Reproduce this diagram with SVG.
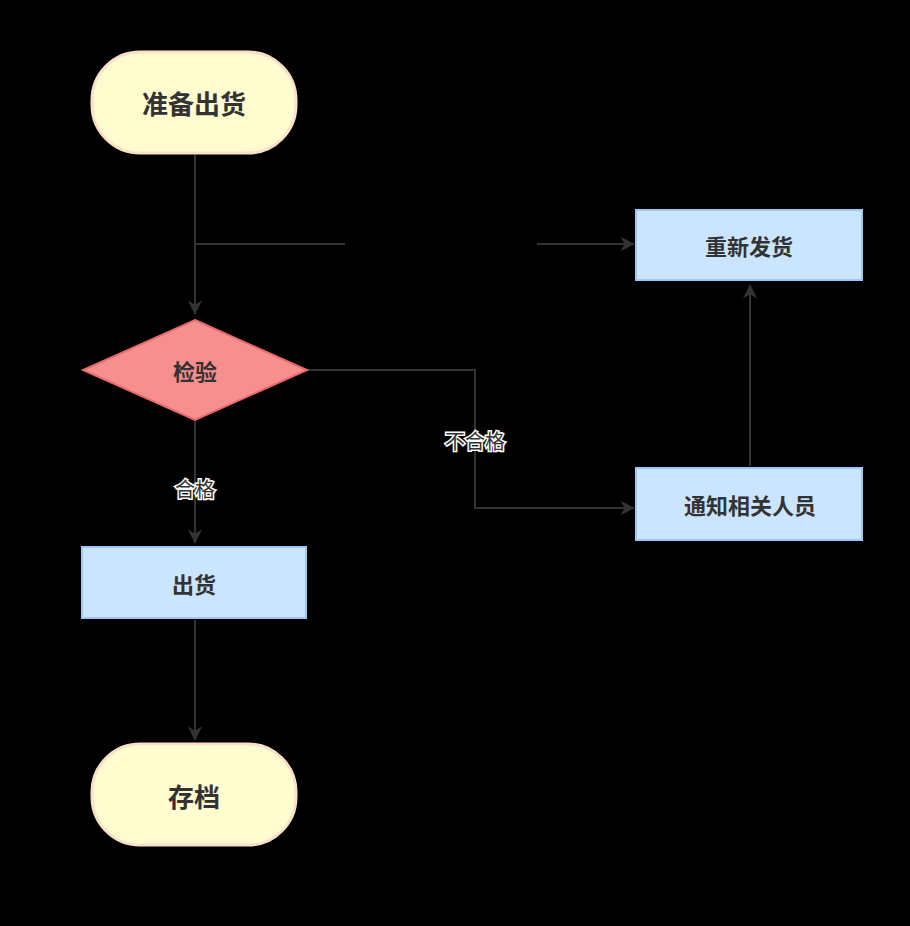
<svg xmlns="http://www.w3.org/2000/svg" width="910" height="926" viewBox="0 0 910 926">
<style>
.term{fill:#fffdd0;stroke:#fbe0c8;stroke-width:3}
.box{fill:#cce5ff;stroke:#9cc8f5;stroke-width:2}
.dia{fill:#f88f8f;stroke:#e86a6a;stroke-width:2}
.t{font-family:"Noto Sans CJK SC",sans-serif;fill:#333;text-anchor:middle;dominant-baseline:central;font-weight:bold}
.c{fill:none;stroke:#333;stroke-width:2}
.lb{font-family:"Noto Sans CJK SC",sans-serif;font-size:20px;fill:#333;text-anchor:middle;dominant-baseline:central;stroke:#fff;stroke-width:3;paint-order:stroke}
</style>
<defs><marker id="a" viewBox="0 0 10 10" refX="9" refY="5" markerWidth="8" markerHeight="8" orient="auto" markerUnits="userSpaceOnUse" style="overflow:visible"><path d="M0,0 L10,5 L0,10 L3,5 Z" fill="#333" transform="scale(1.8) translate(-4.5,-2.2)"/></marker></defs>
<rect width="910" height="926" fill="#000"/>
<g id="connectors">
<path class="c" d="M195,155 V314" marker-end="url(#a)"/>
<path class="c" d="M195,244 H345"/>
<path class="c" d="M537,244 H634" marker-end="url(#a)"/>
<path class="c" d="M195,420 V543" marker-end="url(#a)"/>
<path class="c" d="M307,370 H475 V508 H634" marker-end="url(#a)"/>
<path class="c" d="M750,466 V285" marker-end="url(#a)"/>
<path class="c" d="M195,620 V740" marker-end="url(#a)"/>
<text class="lb" x="195" y="488">合格</text>
<text class="lb" x="475" y="440">不合格</text>
</g>
<g id="n1"><rect class="term" x="92" y="52" width="204" height="101" rx="48"/><text class="t" x="194" y="102" font-size="26">准备出货</text></g>
<g id="n2"><rect class="box" x="636" y="210" width="226" height="70"/><text class="t" x="749" y="245" font-size="22">重新发货</text></g>
<g id="n3"><polygon class="dia" points="195,320 307,370 195,420 83,370"/><text class="t" x="195" y="370" font-size="22">检验</text></g>
<g id="n4"><rect class="box" x="636" y="468" width="226" height="72"/><text class="t" x="750" y="504" font-size="22">通知相关人员</text></g>
<g id="n5"><rect class="box" x="82" y="547" width="224" height="71"/><text class="t" x="194" y="583" font-size="22">出货</text></g>
<g id="n6"><rect class="term" x="92" y="744" width="204" height="101" rx="48"/><text class="t" x="194" y="795" font-size="26">存档</text></g>
</svg>
